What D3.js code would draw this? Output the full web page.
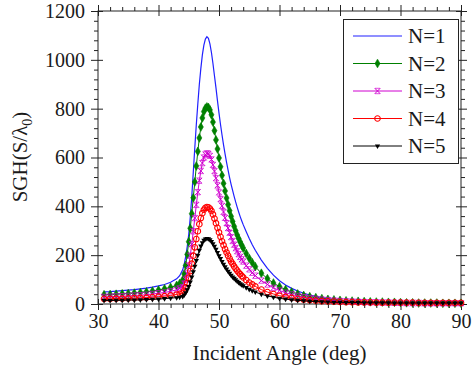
<!DOCTYPE html>
<html><head><meta charset="utf-8">
<script src="https://cdn.jsdelivr.net/npm/d3@7"></script>
<style>
body{margin:0;background:#fff}
svg{display:block}
text{font-family:"Liberation Serif","Times New Roman",serif !important;fill:#1a1a1a}
</style>
</head><body>
<svg id="c" width="474" height="368"></svg>
<script>
// ---------------- data ----------------
const angles = [31,32,33,34,35,36,37,38,39,40,41,42,43,43.5,
  44,44.25,44.5,44.75,45,45.25,45.5,45.75,46,46.25,46.5,46.75,47,47.25,47.5,47.75,
  48,48.25,48.5,48.75,49,49.25,49.5,49.75,50,50.25,50.5,50.75,51,51.25,51.5,51.75,
  52,52.25,52.5,52.75,53,53.25,53.5,53.75,54,
  54.5,55,55.5,56,
  57,58,59,60,61,62,63,64,65,66,67,68,69,70,71,72,73,74,75,76,77,78,79,80,81,82,83,84,85,86,87,88,89,90];

const sghN1 = [50,51,53,55,57,59,62,65,69,74,80,89,103,116,
  140,162,195,235,285,355,440,540,640,735,820,900,965,1020,1060,1085,
  1095,1088,1065,1030,985,935,885,832,782,735,692,652,615,580,548,518,
  490,465,441,418,397,377,358,341,325,
  296,268,243,220,
  180,146,118,95,78,64,53,44,37,31,26,22,18,15,13,11,9,8,7,6,5,5,4,4,3,3,3,3,3,3,3,3,3,3];

const sghN2 = [38,39,40,42,43,45,47,50,53,57,62,68,76,84,
  98,123,158,203,255,310,370,435,500,565,625,680,725,762,788,802,
  807,805,795,775,745,710,672,635,598,562,527,494,463,434,407,382,
  359,338,318,300,283,268,254,241,229,
  207,187,169,153,
  126,104,86,71,59,49,41,35,30,26,22,19,17,15,13,12,11,10,9,8,8,7,7,6,5,5,4,4,4,4,3,3,3,3];

const sghN3 = [29,30,31,32,33,35,36,38,41,44,47,52,58,64,
  70,84,100,125,158,198,245,298,352,406,458,505,545,577,600,612,
  617,615,607,592,570,544,515,486,457,429,402,377,353,331,311,292,
  274,258,243,229,216,204,193,183,174,
  157,142,128,116,
  96,80,66,55,46,39,33,28,24,21,18,16,14,12,11,10,9,8,7,7,6,6,5,5,4,4,4,3,3,3,3,3,3,3];

const sghN4 = [21,21,22,22,23,24,25,26,28,30,32,35,39,42,
  45,55,68,86,108,135,165,198,232,266,298,327,352,372,386,394,
  397,396,391,381,367,350,331,312,293,275,257,241,225,211,198,186,
  174,164,154,145,137,129,122,115,109,
  98,88,80,72,
  59,49,41,34,29,25,21,18,16,14,12,11,10,9,8,8,7,7,7,6,6,6,6,6,6,6,5,5,5,5,5,5,5,5];

const sghN5 = [14,14,15,15,16,16,17,18,19,20,22,24,26,28,
  31,37,46,58,72,90,110,132,155,178,200,220,237,251,261,266,
  268,267,263,256,247,236,224,211,198,186,174,163,152,143,134,126,
  118,111,105,99,93,88,83,79,75,
  67,60,54,49,
  40,33,28,23,20,17,15,13,11,10,9,8,7,7,6,6,6,5,5,5,5,5,4,4,4,4,4,4,4,4,4,4,4,4];

const seriesNames = ["N=1","N=2","N=3","N=4","N=5"];
const xTickValues = [30,40,50,60,70,80,90];
const yTickValues = [0,200,400,600,800,1000,1200];
const xLabel = "Incident Angle (deg)";

// ---------------- layout ----------------
const L = 98, R = 461, T = 11, B = 304;
const FONT = '"Liberation Serif","Times New Roman",serif';
const svg = d3.select("#c");
const x = d3.scaleLinear().domain([30, 90]).range([L, R]);
const y = d3.scaleLinear().domain([0, 1200]).range([B, T]);

const xMinor = d3.range(30, 90.01, 2).filter(v => !xTickValues.includes(v));
const yMinor = d3.range(0, 1200.01, 40).filter(v => !yTickValues.includes(v));

function styleAxis(g){
  g.attr("font-family", FONT).attr("font-size", 20);
  g.select(".domain").remove();
  g.selectAll(".tick line").attr("stroke", "#222").attr("stroke-width", 1);
  g.selectAll(".tick text").style("font-family", FONT).style("font-size", "20px").attr("fill", "#1a1a1a");
}

// bottom
svg.append("g").attr("transform", `translate(0,${B})`)
  .call(d3.axisBottom(x).tickValues(xTickValues).tickFormat(d3.format("d")).tickSize(6).tickPadding(4))
  .call(styleAxis);
svg.append("g").attr("transform", `translate(0,${B})`)
  .call(d3.axisBottom(x).tickValues(xTickValues).tickFormat("").tickSize(-5)).call(styleAxis);
svg.append("g").attr("transform", `translate(0,${B})`)
  .call(d3.axisBottom(x).tickValues(xMinor).tickFormat("").tickSize(4)).call(styleAxis);
// top
svg.append("g").attr("transform", `translate(0,${T})`)
  .call(d3.axisTop(x).tickValues(xTickValues).tickFormat("").tickSize(6)).call(styleAxis);
svg.append("g").attr("transform", `translate(0,${T})`)
  .call(d3.axisTop(x).tickValues(xTickValues).tickFormat("").tickSize(-5)).call(styleAxis);
svg.append("g").attr("transform", `translate(0,${T})`)
  .call(d3.axisTop(x).tickValues(xMinor).tickFormat("").tickSize(4)).call(styleAxis);
// left
svg.append("g").attr("transform", `translate(${L},0)`)
  .call(d3.axisLeft(y).tickValues(yTickValues).tickFormat(d3.format("d")).tickSize(7).tickPadding(6))
  .call(styleAxis);
svg.append("g").attr("transform", `translate(${L},0)`)
  .call(d3.axisLeft(y).tickValues(yTickValues).tickFormat("").tickSize(-5)).call(styleAxis);
svg.append("g").attr("transform", `translate(${L},0)`)
  .call(d3.axisLeft(y).tickValues(yMinor).tickFormat("").tickSize(4)).call(styleAxis);
// right
svg.append("g").attr("transform", `translate(${R},0)`)
  .call(d3.axisRight(y).tickValues(yTickValues).tickFormat("").tickSize(6)).call(styleAxis);
svg.append("g").attr("transform", `translate(${R},0)`)
  .call(d3.axisRight(y).tickValues(yTickValues).tickFormat("").tickSize(-5)).call(styleAxis);
svg.append("g").attr("transform", `translate(${R},0)`)
  .call(d3.axisRight(y).tickValues(yMinor).tickFormat("").tickSize(4)).call(styleAxis);

// frame
svg.append("rect").attr("x", L).attr("y", T).attr("width", R - L).attr("height", B - T)
  .attr("fill", "none").attr("stroke", "#222").attr("stroke-width", 1);

// axis titles
svg.append("text").attr("x", (L + R) / 2).attr("y", 360).attr("text-anchor", "middle")
  .style("font-family", FONT).attr("font-size", 21).text(xLabel);
const yt = svg.append("text").attr("transform", "translate(27,157) rotate(-90)")
  .attr("text-anchor", "middle").style("font-family", FONT).attr("font-size", 21);
yt.append("tspan").text("SGH(S/λ");
yt.append("tspan").attr("font-size", 14).attr("dy", 5).text("0");
yt.append("tspan").attr("dy", -5).text(")");

// ---------------- series ----------------
const series = [
  {name: seriesNames[0], values: sghN1, color: "#2020ff", marker: null, lw: 1.2},
  {name: seriesNames[1], values: sghN2, color: "#008000", marker: "diamond", lw: 1},
  {name: seriesNames[2], values: sghN3, color: "#d000d0", marker: "times", lw: 1},
  {name: seriesNames[3], values: sghN4, color: "#ff0000", marker: "circle", lw: 1},
  {name: seriesNames[4], values: sghN5, color: "#000000", marker: "triangle", lw: 1}
];

function drawMarker(g, type, color){
  if (type === "diamond") {
    g.append("path").attr("d", d3.symbol(d3.symbolDiamond, 22)()).attr("fill", color).attr("stroke", color).attr("stroke-width", 0.6);
  } else if (type === "times") {
    g.append("path").attr("d", d3.symbol(d3.symbolTimes, 22)()).attr("fill", "none").attr("stroke", color).attr("stroke-width", 1);
    g.append("path").attr("d", "M-2.5,-2.7H2.5M-2.5,2.7H2.5").attr("stroke", color).attr("stroke-width", 0.7);
  } else if (type === "circle") {
    g.append("circle").attr("r", 2.8).attr("fill", "none").attr("stroke", color).attr("stroke-width", 1.1);
  } else if (type === "triangle") {
    g.append("path").attr("d", d3.symbol(d3.symbolTriangle, 12)()).attr("transform", "rotate(180)").attr("fill", color);
  }
}

const line = d3.line().x(d => x(d[0])).y(d => y(d[1]));
series.forEach(s => {
  const pts = angles.map((a, i) => [a, s.values[i]]);
  const g = svg.append("g");
  g.append("path").datum(pts).attr("d", line).attr("fill", "none")
    .attr("stroke", s.color).attr("stroke-width", s.lw);
  if (s.marker) {
    pts.forEach(p => {
      const mg = g.append("g").attr("transform", `translate(${x(p[0])},${y(p[1])})`);
      drawMarker(mg, s.marker, s.color);
    });
  }
});

// ---------------- legend ----------------
const lg = svg.append("g");
lg.append("rect").attr("x", 343.5).attr("y", 19.5).attr("width", 115).attr("height", 144)
  .attr("fill", "#fff").attr("stroke", "#222").attr("stroke-width", 1);
series.forEach((s, i) => {
  const cy = 36 + i * 27.5;
  lg.append("line").attr("x1", 353).attr("x2", 402).attr("y1", cy).attr("y2", cy)
    .attr("stroke", s.color).attr("stroke-width", s.lw);
  if (s.marker) {
    const mg = lg.append("g").attr("transform", `translate(377.5,${cy})`);
    drawMarker(mg, s.marker, s.color);
  }
  lg.append("text").attr("x", 408).attr("y", cy + 7).style("font-family", FONT).attr("font-size", 21).text(s.name);
});
</script>
</body></html>
